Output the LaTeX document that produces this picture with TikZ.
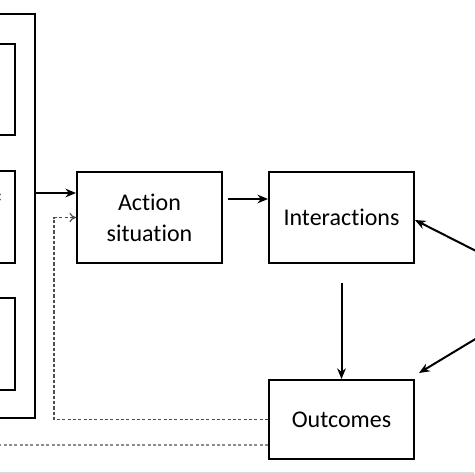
\documentclass[tikz,border=0pt]{standalone}
\usepackage{fontspec}
\setmainfont[Ligatures=NoCommon]{Carlito}
\usetikzlibrary{arrows,arrows.meta}

\begin{document}
\begin{tikzpicture}[x=0.75pt,y=-0.75pt,>={Stealth[length=8pt,width=6.5pt]},line width=1.4pt]
  \tikzstyle{box}=[draw,rectangle,align=center,inner sep=0pt,font=\fontsize{18}{23}\selectfont]
  \tikzstyle{arr}=[->,line width=1.5pt]
  \tikzstyle{fb}=[-{To[length=5pt,width=7pt]},gray!60!black,line width=0.9pt,dash pattern=on 2.4pt off 1.6pt]
  \useasboundingbox (0,0) rectangle (474,474);

  % left frame and its parts
  \node[box,minimum width=95*0.75pt,minimum height=404*0.75pt] (frame) at (-12.5,216) {};
  \node[box,minimum width=60*0.75pt,minimum height=91*0.75pt]  (partA) at (-15,89.5) {};
  \node[box,minimum width=60*0.75pt,minimum height=92*0.75pt]  (partB) at (-15,217) {};
  \node[box,minimum width=60*0.75pt,minimum height=92*0.75pt]  (partC) at (-15,344) {};
  \node[anchor=east,inner sep=0pt,font=\fontsize{18}{23}\selectfont] (partBtxt) at (2,202) {of};

  % main boxes
  \node[box,minimum width=145*0.75pt,minimum height=91*0.75pt] (act) at (149.5,217.5) {Action\\situation};
  \node[box,minimum width=145*0.75pt,minimum height=91*0.75pt] (int) at (341.5,217.5) {Interactions};
  \node[box,minimum width=145*0.75pt,minimum height=79*0.75pt] (out) at (341.5,419.5) {Outcomes};

  % free ends
  \coordinate (fbx) at (54,300);
  \coordinate (fbleft) at (-10,445);
  \coordinate (srcA) at (482,254);
  \coordinate (srcB) at (482,335);
  \coordinate (outcorner) at (419,373);

  \draw[arr] (frame.east |- 0,193) -- (act.west |- 0,193);
  \draw[arr,shorten <=4pt] (act.east |- 0,199) -- (int.west |- 0,199);
  \draw[arr,shorten <=14pt] (int.south) -- (out.north);
  \draw[arr] (srcA) -- (int.east |- 0,220);
  \draw[arr] (srcB) -- (outcorner);

  \draw[fb] (out.west) -| (fbx) |- (act.west);
  \draw[fb,-,gray!90] (out.west |- fbleft) -- (fbleft);

  % strip along the bottom
  \fill[gray!30] (0,472) rectangle (474,474);
\end{tikzpicture}
\end{document}
